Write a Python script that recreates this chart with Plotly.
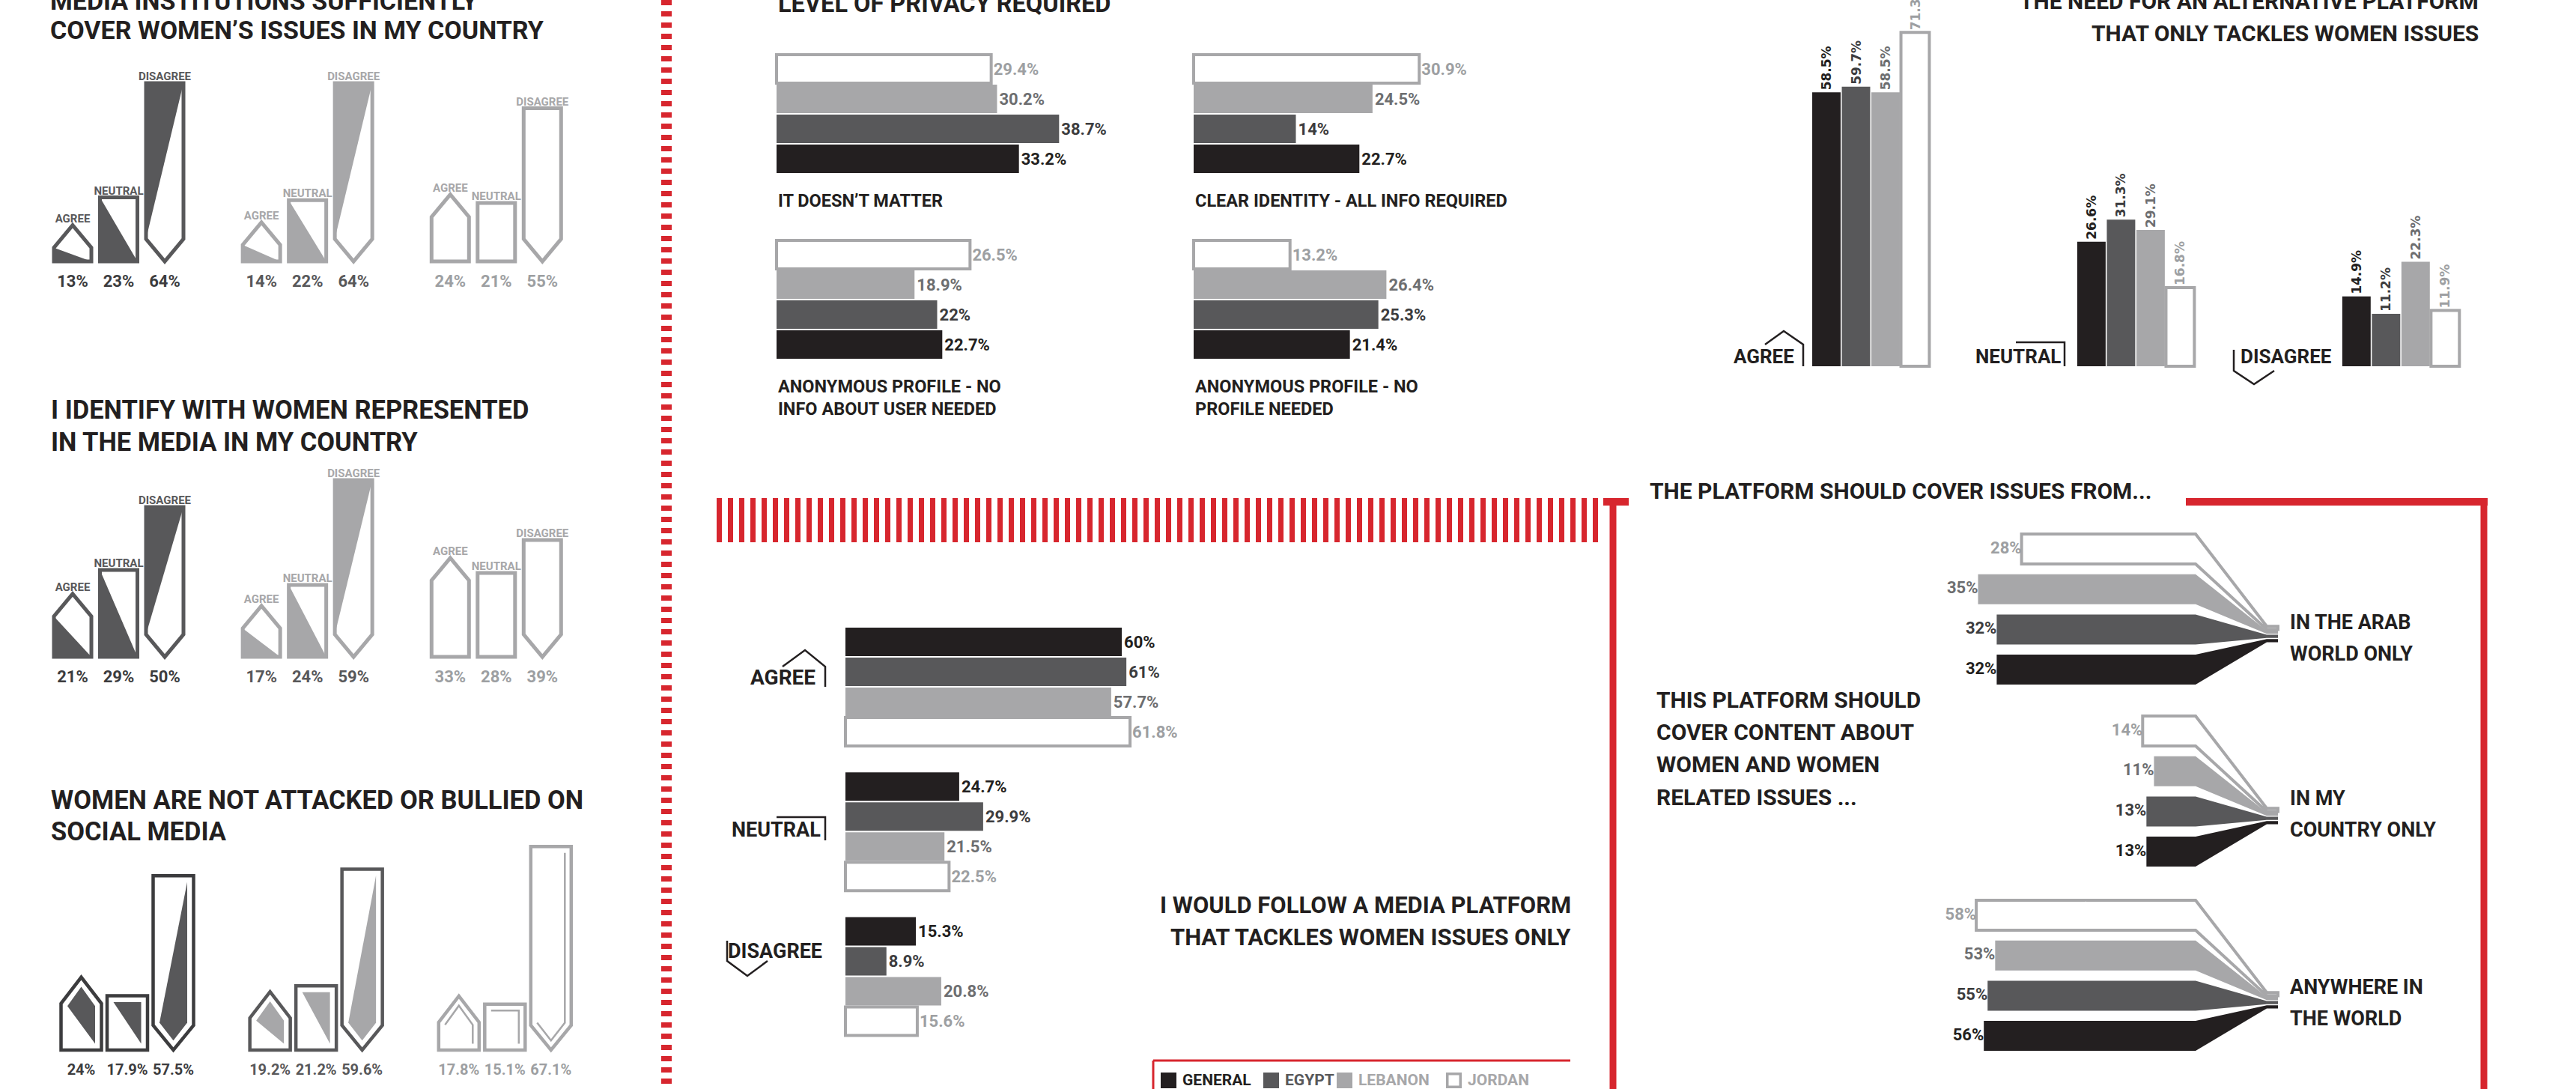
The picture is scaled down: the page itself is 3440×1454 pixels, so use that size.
import plotly.graph_objects as go

W, H = 3440, 1454

RED = "#d7262e"
INK = "#231f20"
DARK = "#58585a"
LIGHT = "#a7a7a9"
WHITE = "#ffffff"

NARROW = "Roboto, Liberation Sans, sans-serif"
ROUND = "Roboto, Noto Sans, sans-serif"
WIDE = "DejaVu Sans, Verdana, sans-serif"

# ---------------------------------------------------------------- data
COUNTRIES = ["GENERAL", "EGYPT", "LEBANON", "JORDAN"]
ANSWERS = ["AGREE", "NEUTRAL", "DISAGREE"]

MEDIA_COVER_EGYPT = [13, 23, 64]
MEDIA_COVER_LEBANON = [14, 22, 64]
MEDIA_COVER_JORDAN = [24, 21, 55]

IDENTIFY_EGYPT = [21, 29, 50]
IDENTIFY_LEBANON = [17, 24, 59]
IDENTIFY_JORDAN = [33, 28, 39]

NOT_BULLIED_EGYPT = [24, 17.9, 57.5]
NOT_BULLIED_LEBANON = [19.2, 21.2, 59.6]
NOT_BULLIED_JORDAN = [17.8, 15.1, 67.1]

PRIVACY_OPTIONS = [
    "IT DOESN\u2019T MATTER",
    "CLEAR IDENTITY - ALL INFO REQUIRED",
    "ANONYMOUS PROFILE - NO<br>INFO ABOUT USER NEEDED",
    "ANONYMOUS PROFILE - NO<br>PROFILE NEEDED",
]
PRIVACY_GENERAL = [33.2, 22.7, 22.7, 21.4]
PRIVACY_EGYPT = [38.7, 14, 22, 25.3]
PRIVACY_LEBANON = [30.2, 24.5, 18.9, 26.4]
PRIVACY_JORDAN = [29.4, 30.9, 26.5, 13.2]

FOLLOW_GENERAL = [60, 24.7, 15.3]
FOLLOW_EGYPT = [61, 29.9, 8.9]
FOLLOW_LEBANON = [57.7, 21.5, 20.8]
FOLLOW_JORDAN = [61.8, 22.5, 15.6]

NEED_GENERAL = [58.5, 26.6, 14.9]
NEED_EGYPT = [59.7, 31.3, 11.2]
NEED_LEBANON = [58.5, 29.1, 22.3]
NEED_JORDAN = [71.3, 16.8, 11.9]

SCOPE_OPTIONS = ["IN THE ARAB<br>WORLD ONLY", "IN MY<br>COUNTRY ONLY", "ANYWHERE IN<br>THE WORLD"]
SCOPE_GENERAL = [32, 13, 56]
SCOPE_EGYPT = [32, 13, 55]
SCOPE_LEBANON = [35, 11, 53]
SCOPE_JORDAN = [28, 14, 58]

COUNTRY_FILL = {"GENERAL": INK, "EGYPT": DARK, "LEBANON": LIGHT, "JORDAN": WHITE}
COUNTRY_TEXT = {"GENERAL": INK, "EGYPT": "#3c3c3e", "LEBANON": "#6d6e70", "JORDAN": "#9d9fa2"}
LEGEND_TEXT = {"GENERAL": INK, "EGYPT": DARK, "LEBANON": LIGHT, "JORDAN": LIGHT}

fig = go.Figure()
axis_layout = {}
annotations = []
shapes = []


def make_axes(left, right, top, bottom, xrange, yrange):
    n = len(axis_layout) // 2 + 1
    s = "" if n == 1 else str(n)
    axis_layout["xaxis" + s] = dict(domain=[left / W, right / W], range=xrange,
                                    visible=False, fixedrange=True, anchor="y" + s)
    axis_layout["yaxis" + s] = dict(domain=[1 - bottom / H, 1 - top / H], range=yrange,
                                    visible=False, fixedrange=True, anchor="x" + s)
    return "x" + s, "y" + s


def xr(p0, p1, origin, scale):
    return [(p0 - origin) / scale, (p1 - origin) / scale]


def yr(ptop, pbot, origin, scale):
    return [(origin - pbot) / scale, (origin - ptop) / scale]


def yr_rev(ptop, pbot, origin, pitch):
    return [(pbot - origin) / pitch, (ptop - origin) / pitch]


def text(px, py, s, size, color=INK, family=NARROW, anchor="left"):
    annotations.append(dict(
        x=px / W, y=1 - py / H, xref="paper", yref="paper", text=s, showarrow=False,
        xanchor=anchor, yanchor="middle",
        font=dict(family=family, size=size, color=color, weight="bold"),
    ))


def text_lines(px, py, s, size, gap, color=INK, family=NARROW, anchor="left"):
    for k, line in enumerate(s.split("<br>")):
        text(px, py + k * gap, line, size, color, family, anchor)


def rule(points, color, width, dash="solid"):
    path = "M " + " L ".join(f"{x / W},{1 - y / H}" for x, y in points)
    shapes.append(dict(type="path", path=path, xref="paper", yref="paper",
                       line=dict(color=color, width=width, dash=dash)))


def poly(xa, ya, pts, fill=None, edge=None, width=0):
    fig.add_trace(go.Scatter(
        x=[p[0] for p in pts], y=[p[1] for p in pts], xaxis=xa, yaxis=ya,
        mode="lines", fill="toself" if fill else "none",
        fillcolor=fill if fill else None,
        line=dict(color=edge if edge else "rgba(0,0,0,0)", width=width),
        hoverinfo="skip", showlegend=False,
    ))


def closed(pts):
    mid = ((pts[0][0] + pts[1][0]) / 2, (pts[0][1] + pts[1][1]) / 2)
    return [mid] + pts[1:] + [pts[0], mid]


# ---------------------------------------------------------------- shape charts (left column)
SHAPE_STEP = 61.5
GROUP_STEP = 4.1


def outline_pts(kind, cx, hw, v, roof, point):
    l, r = cx - hw, cx + hw
    if kind == 0:
        return [(l, 0), (r, 0), (r, v - roof), (cx, v), (l, v - roof)]
    if kind == 1:
        return [(l, 0), (r, 0), (r, v), (l, v)]
    return [(l, v), (r, v), (r, point), (cx, 0), (l, point)]


def half_fill_pts(kind, cx, hw, v, roof, point):
    l, r = cx - hw, cx + hw
    if kind == 0:
        return [(l, v - roof), (l, 0), (r, 0)]
    if kind == 1:
        return [(l, v), (l, 0), (r, 0)]
    return [(l, v), (r, v), (l, point)]


def inner_pts(kind, cx, hw, v, roof, point, ix, iy):
    l, r, b = cx - hw + ix, cx + hw - ix, iy
    if kind == 0:
        sh = v - roof - iy * 0.4
        return [(l, sh), (cx, v - iy * 1.5), (r, sh), (r, b)]
    if kind == 1:
        return [(l, v - iy), (r, v - iy), (r, b)]
    pt = point + iy * 0.4
    return [(r, v - iy), (r, pt), (cx, iy * 1.5), (l, pt)]


def shape_chart(groups, x0px, baseline, scale, top, bottom, style, show_cats, pct_size):
    xa, ya = make_axes(20, 875, top, bottom, xr(20, 875, x0px, SHAPE_STEP),
                       yr(top, bottom, baseline, scale))
    half = style == "half"
    hw = (25 if half else 27) / SHAPE_STEP
    roof = (30 if half else 35) / scale
    point = (30 if half else 33) / scale
    for g, (vals, fill, edge, cat_color, pct_color) in enumerate(groups):
        xs = [g * GROUP_STEP + i for i in range(3)]
        for i, v in enumerate(vals):
            cx = xs[i]
            outer = outline_pts(i, cx, hw, v, roof, point)
            if half:
                if fill:
                    poly(xa, ya, half_fill_pts(i, cx, hw, v, roof, point), fill=fill)
                poly(xa, ya, closed(outer), edge=edge, width=5)
            else:
                poly(xa, ya, closed(outer), edge=edge, width=4.5)
                inner = inner_pts(i, cx, hw, v, roof, point, 8.5 / SHAPE_STEP, 8.5 / scale)
                if fill:
                    poly(xa, ya, inner, fill=fill)
                else:
                    poly(xa, ya, inner, edge=edge, width=2.5)
        if show_cats:
            fig.add_trace(go.Scatter(
                x=xs, y=vals, xaxis=xa, yaxis=ya, mode="text", text=ANSWERS,
                textposition="top center", cliponaxis=False,
                textfont=dict(family=NARROW, size=15, color=cat_color, weight="bold"),
                hoverinfo="skip", showlegend=False,
            ))
        fig.add_trace(go.Scatter(
            x=xs, y=[-28 / scale] * 3, xaxis=xa, yaxis=ya, mode="text",
            text=[f"{v:g}%" for v in vals], textposition="middle center", cliponaxis=False,
            textfont=dict(family=NARROW, size=pct_size, color=pct_color, weight="bold"),
            hoverinfo="skip", showlegend=False,
        ))


text_lines(65, 1, "MEDIA INSTITUTIONS SUFFICIENTLY<br>COVER WOMEN\u2019S ISSUES IN MY COUNTRY", 34, 39)
shape_chart(
    [(MEDIA_COVER_EGYPT, DARK, DARK, DARK, "#3c3c3e"),
     (MEDIA_COVER_LEBANON, LIGHT, LIGHT, LIGHT, DARK),
     (MEDIA_COVER_JORDAN, None, LIGHT, LIGHT, "#9d9fa2")],
    97, 349, 3.72, 60, 420, "half", True, 22,
)

text_lines(66, 547, "I IDENTIFY WITH WOMEN REPRESENTED<br>IN THE MEDIA IN MY COUNTRY", 34.5, 43, family=ROUND)
shape_chart(
    [(IDENTIFY_EGYPT, DARK, DARK, DARK, "#3c3c3e"),
     (IDENTIFY_LEBANON, LIGHT, LIGHT, LIGHT, DARK),
     (IDENTIFY_JORDAN, None, LIGHT, LIGHT, "#9d9fa2")],
    97, 877, 4.0, 610, 950, "half", True, 22,
)

text_lines(66, 1068, "WOMEN ARE NOT ATTACKED OR BULLIED ON<br>SOCIAL MEDIA", 34.5, 42, family=ROUND)
shape_chart(
    [(NOT_BULLIED_EGYPT, DARK, "#3c3c3e", DARK, "#3c3c3e"),
     (NOT_BULLIED_LEBANON, LIGHT, DARK, LIGHT, DARK),
     (NOT_BULLIED_JORDAN, None, LIGHT, LIGHT, "#9d9fa2")],
    108.5, 1402, 4.05, 1125, 1454, "double", False, 20,
)

# ---------------------------------------------------------------- privacy bars (middle top)
text(1037, 5, "LEVEL OF PRIVACY REQUIRED", 32.5)
PRIV_ORIGINS = [(1037, 72), (1594, 72), (1037, 320), (1594, 320)]
ROW = 40
PRIV_SCALE = 9.75
for j, opt in enumerate(PRIVACY_OPTIONS):
    ox, oy = PRIV_ORIGINS[j]
    xa, ya = make_axes(ox - 10, ox + 520, oy - 5, oy + 4 * ROW + 5,
                       xr(ox - 10, ox + 520, ox, PRIV_SCALE),
                       yr_rev(oy - 5, oy + 4 * ROW + 5, oy + ROW / 2, ROW))
    order = ["JORDAN", "LEBANON", "EGYPT", "GENERAL"]
    series = {"GENERAL": PRIVACY_GENERAL, "EGYPT": PRIVACY_EGYPT,
              "LEBANON": PRIVACY_LEBANON, "JORDAN": PRIVACY_JORDAN}
    vals = [series[c][j] for c in order]
    fig.add_trace(go.Bar(
        x=vals, y=list(range(4)), orientation="h", xaxis=xa, yaxis=ya, width=0.95,
        marker=dict(color=[COUNTRY_FILL[c] for c in order],
                    line=dict(color=LIGHT, width=[4 if c == "JORDAN" else 0 for c in order])),
        text=[f"{v:g}%" for v in vals], textposition="outside", cliponaxis=False,
        constraintext="none",
        textfont=dict(family=NARROW, size=22, color=[COUNTRY_TEXT[c] for c in order], weight="bold"),
        hoverinfo="skip", showlegend=False,
    ))
    text_lines(ox, oy + 196, opt, 23.5, 30)

# ---------------------------------------------------------------- red dividers
rule([(890, 0), (890, H)], RED, 14, "7px,8px")
rule([(957, 694.5), (2141, 694.5)], RED, 59, "7px,8px")
rule([(2141, 670), (2175, 670)], RED, 10)
rule([(2154, 670), (2154, H)], RED, 9)
rule([(2919, 670), (3322, 670)], RED, 10)
rule([(3317, 670), (3317, H)], RED, 9)

# ---------------------------------------------------------------- follow chart (middle bottom)
FOLLOW_SCALE = 6.15
FOLLOW_GROUP = 4.83
xa, ya = make_axes(1110, 1640, 815, 1400, xr(1110, 1640, 1129, FOLLOW_SCALE),
                   yr_rev(815, 1400, 857, ROW))
for i, (country, vals) in enumerate(zip(COUNTRIES, [FOLLOW_GENERAL, FOLLOW_EGYPT,
                                                    FOLLOW_LEBANON, FOLLOW_JORDAN])):
    fig.add_trace(go.Bar(
        x=vals, y=[g * FOLLOW_GROUP + i for g in range(3)], orientation="h",
        xaxis=xa, yaxis=ya, width=0.95,
        marker=dict(color=COUNTRY_FILL[country],
                    line=dict(color=LIGHT, width=4 if country == "JORDAN" else 0)),
        text=[f"{v:g}%" for v in vals], textposition="outside", cliponaxis=False,
        constraintext="none",
        textfont=dict(family=NARROW, size=22, color=COUNTRY_TEXT[country], weight="bold"),
        hoverinfo="skip", showlegend=False,
    ))

text(1091, 904, "AGREE", 28, anchor="right")
rule([(1045, 890), (1075, 868), (1102, 890), (1102, 917)], INK, 2.5)
text(1098, 1108, "NEUTRAL", 27, anchor="right")
rule([(1037, 1091), (1102, 1091), (1102, 1122)], INK, 2.5)
text(1100, 1270, "DISAGREE", 27, anchor="right")
rule([(971, 1256), (971, 1283), (998, 1303), (1025, 1283)], INK, 2.5)

text_lines(2100, 1208, "I WOULD FOLLOW A MEDIA PLATFORM<br>THAT TACKLES WOMEN ISSUES ONLY", 31, 43, anchor="right")

# legend
rule([(1540, 1416), (2097, 1416)], RED, 3)
rule([(1540, 1416), (1540, H)], RED, 3)
LEGEND_X = [1550, 1687, 1785, 1931]
for k, country in enumerate(COUNTRIES):
    lx = LEGEND_X[k]
    if country == "JORDAN":
        shapes.append(dict(type="rect", xref="paper", yref="paper",
                           x0=(lx + 1.75) / W, x1=(lx + 19.25) / W,
                           y0=1 - 1451.25 / H, y1=1 - 1433.75 / H,
                           fillcolor=WHITE, line=dict(color=LIGHT, width=3.5)))
    else:
        shapes.append(dict(type="rect", xref="paper", yref="paper",
                           x0=lx / W, x1=(lx + 21) / W, y0=1 - 1453 / H, y1=1 - 1432 / H,
                           fillcolor=COUNTRY_FILL[country], line=dict(width=0)))
    text(lx + 27, 1442, country, 21, color=LEGEND_TEXT[country])

# ---------------------------------------------------------------- need chart (right top)
NEED_UNIT = 39.5
NEED_GROUP = 8.96
NEED_SCALE = 6.25
xa, ya = make_axes(2400, 3330, 0, 520, xr(2400, 3330, 2439, NEED_UNIT),
                   yr(0, 520, 489, NEED_SCALE))
for i, (country, vals) in enumerate(zip(COUNTRIES, [NEED_GENERAL, NEED_EGYPT,
                                                    NEED_LEBANON, NEED_JORDAN])):
    fig.add_trace(go.Bar(
        x=[g * NEED_GROUP + i for g in range(3)], y=vals, xaxis=xa, yaxis=ya, width=0.96,
        marker=dict(color=COUNTRY_FILL[country],
                    line=dict(color=LIGHT, width=4 if country == "JORDAN" else 0)),
        text=[f"{v:g}%" for v in vals], textposition="outside", textangle=-90,
        cliponaxis=False, constraintext="none",
        textfont=dict(family=WIDE, size=17, color=COUNTRY_TEXT[country], weight="bold"),
        hoverinfo="skip", showlegend=False,
    ))

text_lines(3312, 2, "THE NEED FOR AN ALTERNATIVE PLATFORM<br>THAT ONLY TACKLES WOMEN ISSUES", 30, 43, anchor="right")
text(2398, 476, "AGREE", 26, anchor="right")
rule([(2357, 460), (2382, 442), (2408, 460), (2408, 489)], INK, 2.5)
text(2754, 476, "NEUTRAL", 26, anchor="right")
rule([(2692, 457), (2757, 457), (2757, 489)], INK, 2.5)
text(2990, 476, "DISAGREE", 26)
rule([(2983, 467), (2983, 495), (3010, 513), (3037, 495)], INK, 2.5)

# ---------------------------------------------------------------- scope funnels (right bottom)
text(2201, 655, "THE PLATFORM SHOULD COVER ISSUES FROM...", 30)
text_lines(2210, 934, "THIS PLATFORM SHOULD<br>COVER CONTENT ABOUT<br>WOMEN AND WOMEN<br>RELATED ISSUES ...", 30, 43.5)

FUNNEL_ROW0 = [733, 976, 1222]
FUNNEL_SCALE = [8.3, 5.05, 5.05]
FUNNEL_END = 2932
FUNNEL_PITCH = 53.7
funnel_order = ["JORDAN", "LEBANON", "EGYPT", "GENERAL"]
funnel_series = {"GENERAL": SCOPE_GENERAL, "EGYPT": SCOPE_EGYPT,
                 "LEBANON": SCOPE_LEBANON, "JORDAN": SCOPE_JORDAN}
for g, opt in enumerate(SCOPE_OPTIONS):
    s = FUNNEL_SCALE[g]
    y0 = FUNNEL_ROW0[g]
    xa, ya = make_axes(2560, 3060, y0 - 40, y0 + 202,
                       [(FUNNEL_END - 2560) / s, (FUNNEL_END - 3060) / s],
                       yr_rev(y0 - 40, y0 + 202, y0, FUNNEL_PITCH))
    hh = 20 / FUNNEL_PITCH
    t1, t2 = 95 / s, 110 / s
    vals = []
    for r, country in enumerate(funnel_order):
        v = funnel_series[country][g]
        vals.append(v)
        c = 2.12 + (r - 1.5) * 0.105
        e = 0.04
        pts = [(v, r - hh), (0, r - hh), (-t1, c - e), (-t2, c - e),
               (-t2, c + e), (-t1, c + e), (0, r + hh), (v, r + hh)]
        if country == "JORDAN":
            poly(xa, ya, closed(pts), fill=WHITE, edge=LIGHT, width=4)
        else:
            poly(xa, ya, pts + [pts[0]], fill=COUNTRY_FILL[country])
    fig.add_trace(go.Scatter(
        x=vals, y=list(range(4)), xaxis=xa, yaxis=ya, mode="text",
        text=[f"{v:g}%" for v in vals], textposition="middle left", cliponaxis=False,
        textfont=dict(family=NARROW, size=22, color=[COUNTRY_TEXT[c] for c in funnel_order],
                      weight="bold"),
        hoverinfo="skip", showlegend=False,
    ))
    text_lines(3056, [831, 1066, 1318][g], opt, 27, 42)

fig.update_layout(
    width=W, height=H, margin=dict(l=0, r=0, t=0, b=0),
    paper_bgcolor=WHITE, plot_bgcolor="rgba(0,0,0,0)",
    showlegend=False, barmode="overlay",
    annotations=annotations, shapes=shapes,
    **axis_layout,
)

fig.write_html("out.html", config={"displayModeBar": False},
               post_script="document.body.style.margin='0px';")
